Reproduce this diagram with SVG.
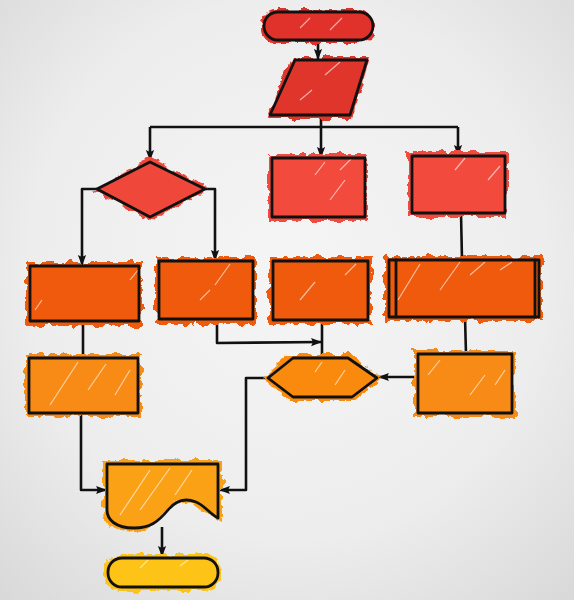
<svg xmlns="http://www.w3.org/2000/svg" width="574" height="600" viewBox="0 0 574 600">
<defs>
<radialGradient id="bg" cx="50%" cy="45%" r="75%">
<stop offset="0" stop-color="#f5f5f5"/>
<stop offset="0.6" stop-color="#ededed"/>
<stop offset="1" stop-color="#d8d8d8"/>
</radialGradient>
<filter id="rough" x="-10%" y="-15%" width="120%" height="130%">
<feTurbulence type="fractalNoise" baseFrequency="0.09" numOctaves="3" seed="5"/>
<feDisplacementMap in="SourceGraphic" scale="10" xChannelSelector="R" yChannelSelector="G"/>
</filter>
<marker id="arr" viewBox="0 0 12 10" refX="12" refY="5" markerWidth="4.2" markerHeight="3.6" orient="auto" markerUnits="strokeWidth">
<path d="M0,0.5 L12,5 L0,9.5 L2,5 z" fill="#111"/>
</marker>
</defs>
<style>
.o{fill:none;stroke:#111;stroke-width:2.8;stroke-linejoin:round;stroke-linecap:round}
.f{filter:url(#rough)}
.h{stroke:#fff;stroke-opacity:0.6;stroke-width:1.2;fill:none}
.c{fill:none;stroke:#111;stroke-width:2.6;stroke-linejoin:round}
.ca{marker-end:url(#arr)}
</style>
<rect width="574" height="600" fill="url(#bg)"/>

<g id="connectors">
<path class="c ca" d="M318,40 L318,60"/>
<path class="c" d="M321,115 L321,127"/>
<path class="c" d="M150,127 L458,127"/>
<path class="c ca" d="M150,127 L150,161"/>
<path class="c ca" d="M321,127 L321,158"/>
<path class="c ca" d="M458,127 L458,156"/>
<path class="c ca" d="M97,189 L82,189 L82,266"/>
<path class="c ca" d="M205,189 L215,189 L215,261"/>
<path class="c" d="M461,213 L462,260"/>
<path class="c" d="M83,321 L83,358"/>
<path class="c ca" d="M217,319 L217,343 L322,342"/>
<path class="c" d="M322,320 L322,358"/>
<path class="c" d="M465,317 L466,354"/>
<path class="c ca" d="M418,377 L378,377"/>
<path class="c ca" d="M268,378 L246,378 L246,490 L219,490"/>
<path class="c ca" d="M81,413 L81,490 L107,490"/>
<path class="c ca" d="M162,527 L162,557"/>
</g>

<g id="start">
<rect class="f" x="261" y="10" width="113" height="33" rx="15" fill="#e0332a"/>
<path class="h" d="M300,28 L310,18 M330,30 L342,18"/>
<rect class="o" x="264" y="12" width="109" height="28" rx="14"/>
</g>

<g id="input">
<path class="f" d="M292,57 L370,57 L352,119 L266,119 Z" fill="#e0362c"/>
<path class="h" d="M325,75 L340,62 M300,100 L312,90"/>
<path class="o" d="M295,60 L367,60 L350,115 L270,115 Z"/>
</g>

<g id="decision">
<path class="f" d="M94,190 L150,158 L209,189 L150,221 Z" fill="#f0463a"/>
<path class="o" d="M97,189 L150,162 L205,189 L150,217 Z"/>
</g>

<g id="process-a">
<rect class="f" x="268" y="154" width="99" height="67" fill="#f24c3c"/>
<path class="h" d="M315,175 L325,162 M330,200 L345,180 M340,170 L352,158"/>
<rect class="o" x="272" y="158" width="93" height="59"/>
</g>

<g id="process-b">
<rect class="f" x="408" y="151" width="100" height="66" fill="#f24c3c"/>
<path class="h" d="M455,170 L465,158 M488,180 L500,166"/>
<rect class="o" x="412" y="156" width="93" height="57"/>
</g>

<g id="process-c">
<rect class="f" x="26" y="262" width="116" height="64" fill="#ef5a0a"/>
<path class="h" d="M35,310 L42,300 M130,280 L138,270"/>
<rect class="o" x="30" y="266" width="109" height="55"/>
</g>

<g id="process-d">
<rect class="f" x="155" y="257" width="101" height="67" fill="#ef5a0a"/>
<path class="h" d="M215,285 L230,264 M200,300 L210,290"/>
<rect class="o" x="159" y="261" width="94" height="58"/>
</g>

<g id="process-e">
<rect class="f" x="269" y="257" width="102" height="67" fill="#ef5a0a"/>
<path class="h" d="M300,300 L315,282 M345,275 L356,264"/>
<rect class="o" x="273" y="261" width="95" height="59"/>
</g>

<g id="process-f">
<rect class="f" x="385" y="256" width="157" height="65" fill="#ef5a0a"/>
<path class="h" d="M398,300 L420,264 M440,290 L460,262 M470,275 L485,262 M500,270 L512,262"/>
<rect class="o" x="389" y="260" width="150" height="57"/>
<path class="o" d="M396,260 L396,317 M535,260 L535,317"/>
</g>

<g id="process-g">
<rect class="f" x="25" y="354" width="117" height="63" fill="#f88a14"/>
<path class="h" d="M50,405 L78,362 M88,390 L106,364 M115,395 L130,370"/>
<rect class="o" x="29" y="358" width="109" height="55"/>
</g>

<g id="merge">
<path class="f" d="M263,378 L291,354 L350,354 L381,378 L354,401 L291,401 Z" fill="#f98a10"/>
<path class="h" d="M315,372 L322,362 M335,385 L345,370"/>
<path class="o" d="M268,378 L293,358 L348,358 L377,378 L352,397 L293,397 Z"/>
</g>

<g id="process-h">
<rect class="f" x="414" y="350" width="101" height="67" fill="#f88a14"/>
<path class="h" d="M428,375 L440,360 M470,395 L485,375 M495,385 L505,370"/>
<rect class="o" x="418" y="354" width="94" height="59"/>
</g>

<g id="document">
<path class="f" d="M103,460 L222,460 L222,522 L200,510 C190,500 178,498 172,505 C160,520 150,533 128,531 C111,529 103,520 103,512 Z" fill="#faa114"/>
<path class="h" d="M120,515 L150,470 M140,510 L170,468 M175,495 L192,470"/>
<path class="o" d="M107,464 L218,464 L218,518 C210,514 204,505 196,502 C186,498 176,500 168,510 C158,522 150,528 134,528 C116,528 107,520 107,510 Z"/>
</g>

<g id="end">
<rect class="f" x="104" y="554" width="117" height="37" rx="16" fill="#fdc315"/>
<path class="h" d="M140,568 L148,560 M180,566 L188,560"/>
<rect class="o" x="108" y="558" width="110" height="29" rx="14"/>
</g>
</svg>
